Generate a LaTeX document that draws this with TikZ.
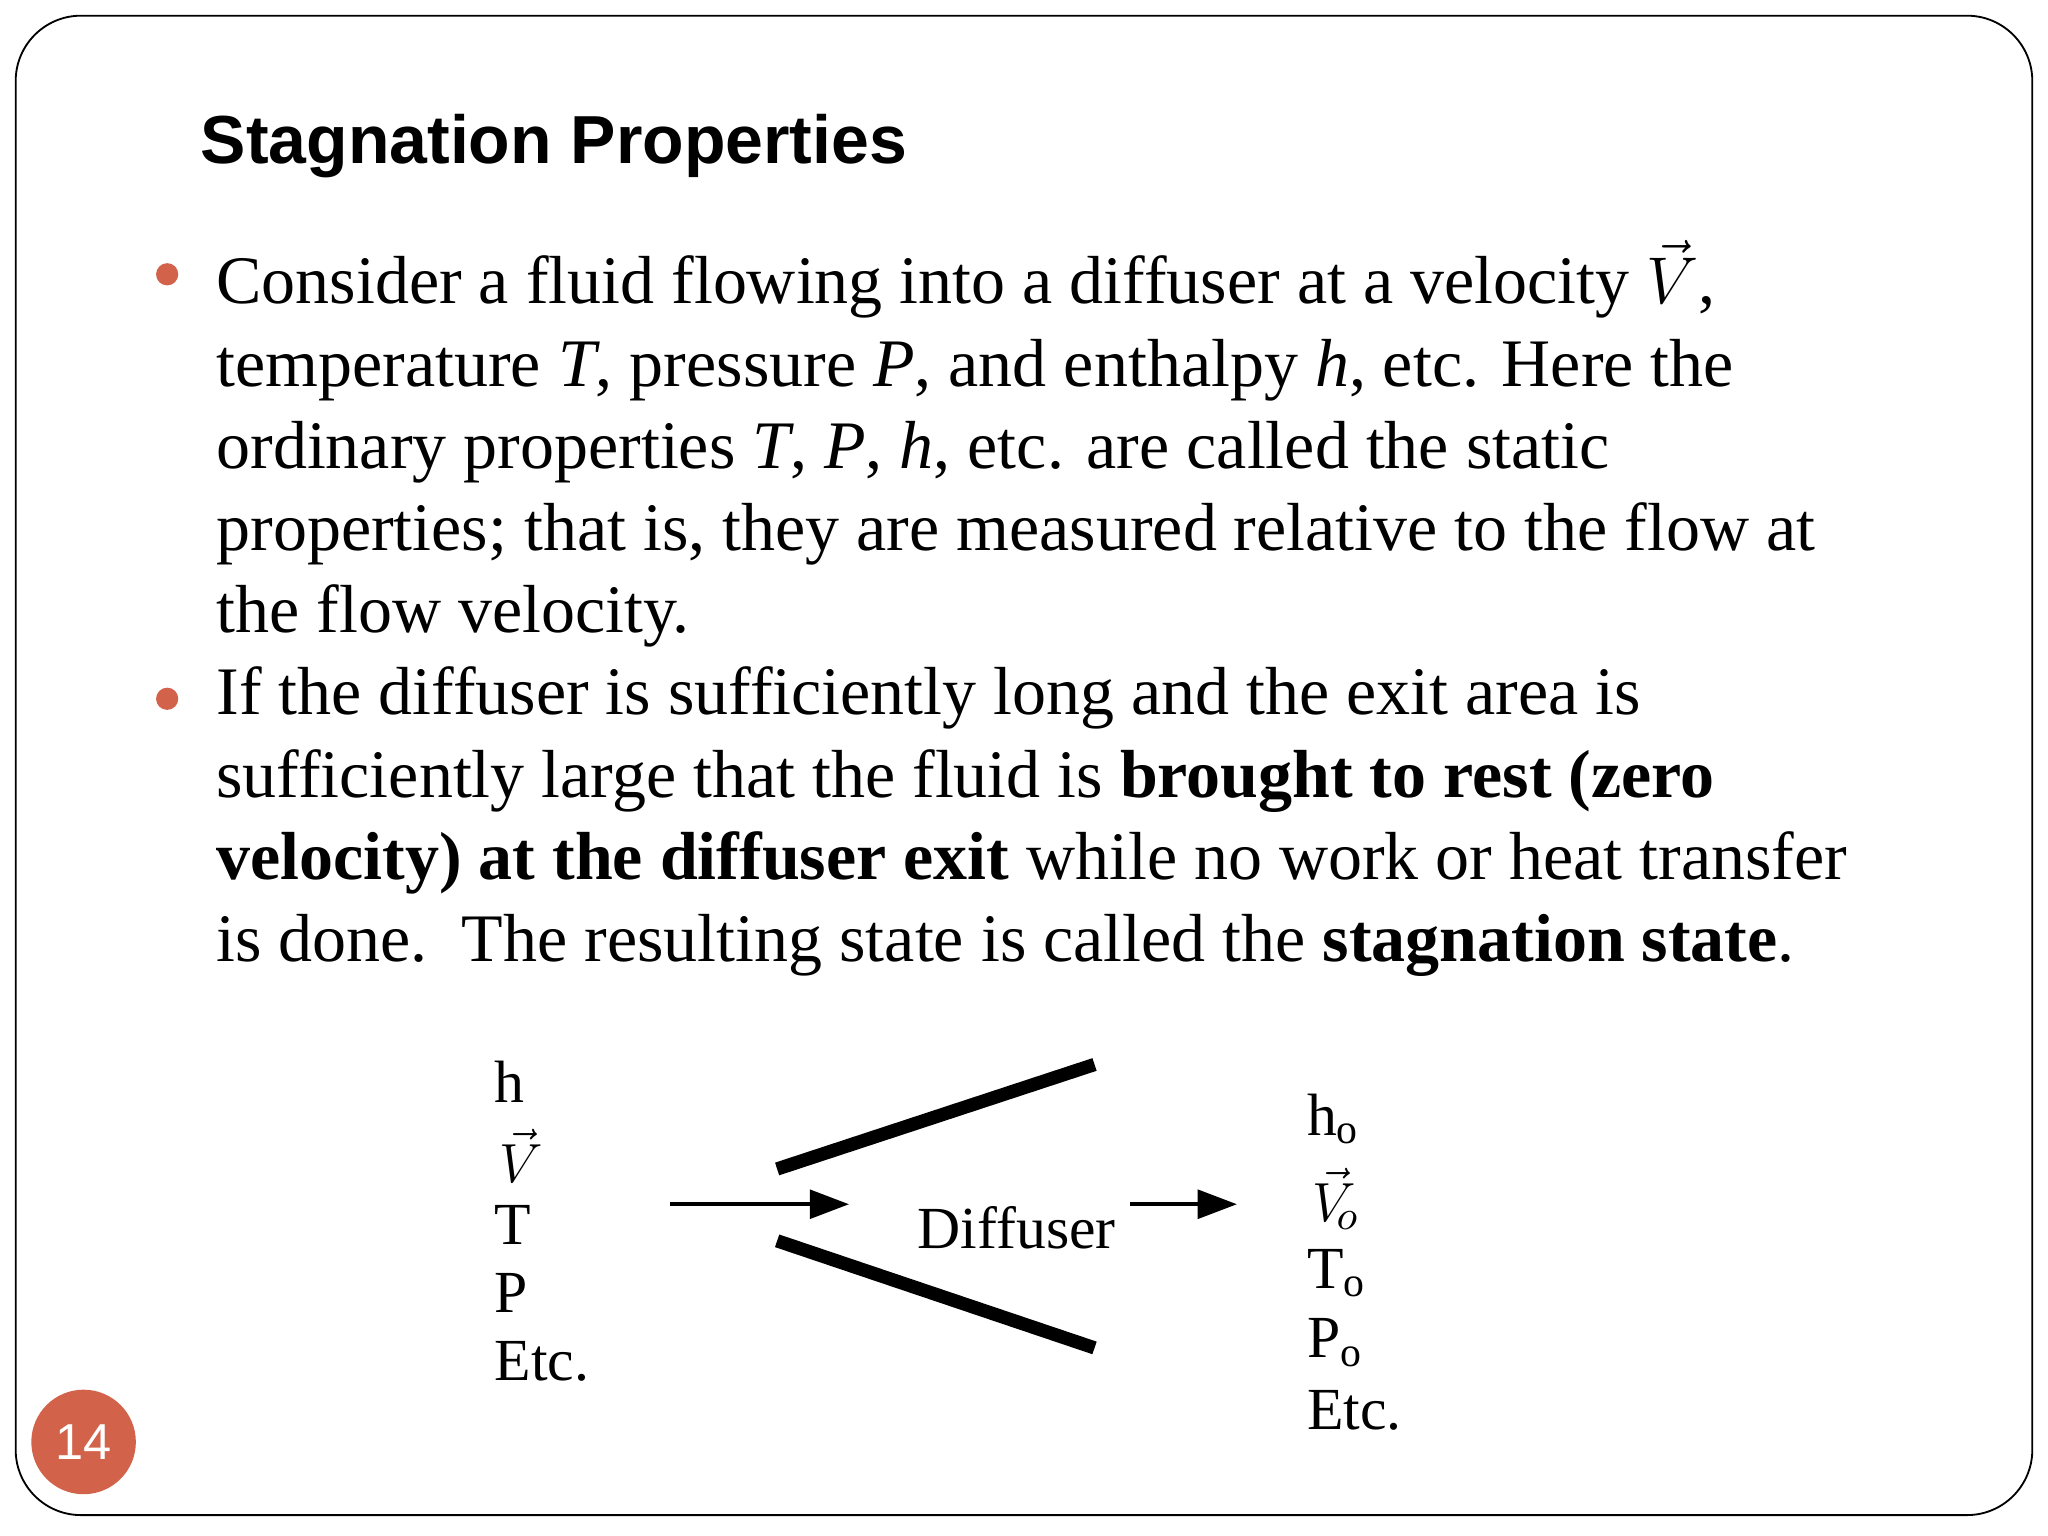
\documentclass[tikz,border=0pt]{standalone}
\usepackage{fontspec}
\setmainfont{Liberation Serif}
\setsansfont{Liberation Sans}
\usepackage{amsmath}
\usetikzlibrary{positioning,arrows.meta}
\definecolor{slideorange}{HTML}{D2624A}

\begin{document}
\begin{tikzpicture}[x=0.01cm,y=-0.01cm,
        bodytext/.style={
            % The shape
            anchor = north west,
            inner sep = 0pt,
            align = left,
            % Font
            font = \fontsize{14.8}{17.9}\selectfont
        },
        label/.style={
            % The placement
            anchor = west,
            inner sep = 0pt,
            % Font
            font = \fontsize{13}{14}\selectfont
        },
        bullet/.style={
            % The shape
            circle,
            minimum size = 0.17cm,
            inner sep = 0pt,
            % The color
            fill = slideorange
        },
        wall/.style={
            % The border
            line width = 2.9pt
        },
        flow/.style={
            -{Triangle[length=0.3cm,width=0.22cm]},
            thick
        }
    ]
        \useasboundingbox (0,0) rectangle (1568,1176);
        \draw[rounded corners=0.5cm] (12,12) rectangle (1556,1160);

        \node (title) [anchor=base west,inner sep=0pt,font=\sffamily\bfseries\fontsize{14.8}{16}\selectfont] at (153,125) {Stagnation Properties};

        \node (bulletA) [bullet] at (128,210) {};
        \node (paraA) [bodytext] at (165,183) {Consider a fluid flowing into a diffuser at a velocity $\vec{V}$,\\
        temperature \textit{T}, pressure \textit{P}, and enthalpy \textit{h}, etc. Here the\\
        ordinary properties \textit{T}, \textit{P}, \textit{h}, etc. are called the static\\
        properties; that is, they are measured relative to the flow at\\
        the flow velocity.};

        \node (bulletB) [bullet] at (128,535) {};
        \node (paraB) [bodytext] at (165,510) {If the diffuser is sufficiently long and the exit area is\\
        sufficiently large that the fluid is \textbf{brought to rest (zero}\\
        \textbf{velocity) at the diffuser exit} while no work or heat transfer\\
        is done.\ \ The resulting state is called the \textbf{stagnation state}.};

        % inlet state
        \node (hIn) [label] at (378,828) {h};
        \node (vIn) [label] at (382,885) {$\vec{V}$};
        \node (tIn) [label] at (378,938) {T};
        \node (pIn) [label] at (378,990) {P};
        \node (etcIn) [label] at (378,1042) {Etc.};

        % diffuser walls
        \coordinate (upperA) at (595,895);
        \coordinate (upperB) at (838,815);
        \coordinate (lowerA) at (595,950);
        \coordinate (lowerB) at (838,1032);
        \draw[wall] (upperA) -- (upperB);
        \draw[wall] (lowerA) -- (lowerB);

        \coordinate (inletStart) at (513,922);
        \coordinate (inletEnd) at (650,922);
        \draw[flow] (inletStart) -- (inletEnd);
        \node (diffuser) [label] at (702,940) {Diffuser};
        \coordinate (exitEnd) at (947,922);
        \draw[flow] (865,922) -- (exitEnd);

        % stagnation state
        \node (hOut) [label] at (1000,857) {h$_\mathrm{o}$};
        \node (vOut) [label] at (1004,918) {$\vec{V}_{\!o}$};
        \node (tOut) [label] at (1000,975) {T$_\mathrm{o}$};
        \node (pOut) [label] at (1000,1028) {P$_\mathrm{o}$};
        \node (etcOut) [label] at (1000,1080) {Etc.};

        \node (pageNum) [circle,fill=slideorange,minimum size=0.8cm,inner sep=0pt,text=white,font=\sffamily\fontsize{11}{12}\selectfont] at (64,1104) {14};
    \end{tikzpicture}
\end{document}
